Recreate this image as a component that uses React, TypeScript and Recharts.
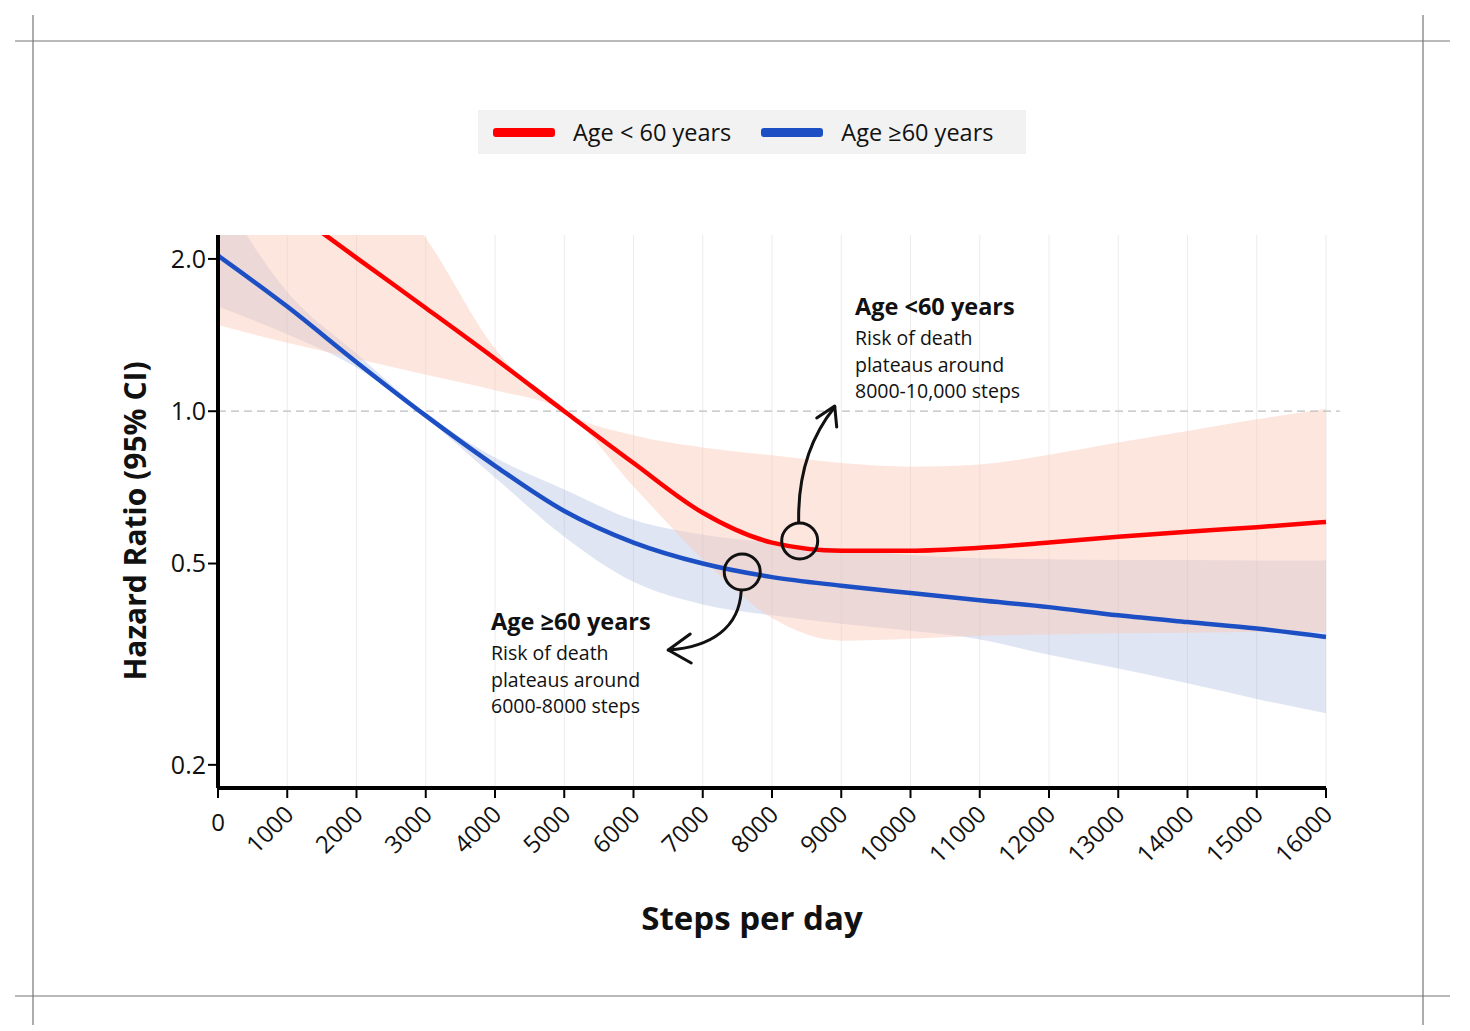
import React from 'react';
import {
  ComposedChart,
  Area,
  Line,
  XAxis,
  YAxis,
  CartesianGrid,
  ReferenceLine,
  ReferenceDot,
} from 'recharts';

// steps per day (x) and hazard ratios per age group
const STEPS = [0, 1000, 2000, 3000, 4000, 5000, 6000, 7000, 8000, 9000, 10000, 11000, 12000, 13000, 14000, 15000, 16000];
const Y_TICKS = [0.2, 0.5, 1.0, 2.0];

const YOUNG_HR = [null, 2.53, 2.01, 1.6, 1.27, 1.0, 0.79, 0.63, 0.55, 0.53, 0.53, 0.537, 0.55, 0.565, 0.578, 0.59, 0.604];
const YOUNG_LO = [1.48, 1.365, 1.27, 1.18, 1.1, 1.0, 0.71, 0.51, 0.39, 0.352, 0.355, 0.36, 0.362, 0.364, 0.365, 0.366, 0.366];
const YOUNG_HI = [5.0, 4.2, 3.2, 2.2, 1.33, 1.0, 0.896, 0.848, 0.818, 0.79, 0.777, 0.785, 0.82, 0.867, 0.914, 0.964, 1.01];

const OLDER_HR = [2.03, 1.61, 1.25, 0.98, 0.78, 0.635, 0.55, 0.5, 0.47, 0.452, 0.437, 0.423, 0.41, 0.395, 0.383, 0.372, 0.358];
const OLDER_LO = [1.61, 1.42, 1.22, 0.97, 0.74, 0.565, 0.46, 0.415, 0.395, 0.38, 0.368, 0.354, 0.33, 0.31, 0.29, 0.27, 0.253];
const OLDER_HI = [2.75, 1.72, 1.3, 0.99, 0.81, 0.7, 0.61, 0.57, 0.55, 0.535, 0.52, 0.512, 0.51, 0.508, 0.508, 0.507, 0.507];

const data = STEPS.map((steps, i) => ({
  steps,
  young: YOUNG_HR[i],
  youngCI: [YOUNG_LO[i], YOUNG_HI[i]],
  older: OLDER_HR[i],
  olderCI: [OLDER_LO[i], OLDER_HI[i]],
}));

const FONT = '"Open Sans", Lato, sans-serif';
const INK = '#111';
const RED = '#ff0000';
const BLUE = '#1d4fc4';

const StepTick = (props: any) => {
  const { x, y, payload } = props;
  if (payload.value === 0) {
    return (
      <text x={x} y={y + 31} textAnchor="middle" fontSize={24} fontWeight={500} fontFamily={FONT} fill={INK}>
        0
      </text>
    );
  }
  const ax = x + 8;
  const ay = y + 16;
  return (
    <text
      x={ax}
      y={ay}
      transform={`rotate(-45 ${ax} ${ay})`}
      textAnchor="end"
      fontSize={24}
      fontWeight={500}
      fontFamily={FONT}
      fill={INK}
    >
      {payload.value}
    </text>
  );
};

// circled point with an arrow curving up towards the note
const UpperMarker = (props: any) => {
  const { cx, cy } = props;
  return (
    <g transform={`translate(${cx} ${cy})`} fill="none" stroke="#111" strokeWidth={3} strokeLinecap="round">
      <circle r={18} />
      <path d="M -1 -19 C -2 -70, 14 -108, 35 -134" />
      <path d="M 17 -123 L 35 -135 L 37 -114" strokeLinejoin="round" />
    </g>
  );
};

// circled point with an arrow curving down-left to the note
const LowerMarker = (props: any) => {
  const { cx, cy } = props;
  return (
    <g transform={`translate(${cx} ${cy})`} fill="none" stroke="#111" strokeWidth={3} strokeLinecap="round">
      <circle r={18} />
      <path d="M -1 19 C -3 55, -30 75, -74 78" />
      <path d="M -52 62 L -74 78 L -51 91" strokeLinejoin="round" />
    </g>
  );
};

const Note = ({ x, y, title, lines }: { x: number; y: number; title: string; lines: string[] }) => (
  <g fontFamily={FONT} fill={INK}>
    <text x={x} y={y} fontSize={23.5} fontWeight={700}>{title}</text>
    {lines.map((t, i) => (
      <text key={t} x={x} y={y + 30 + i * 26.5} fontSize={19.5} fontWeight={500}>{t}</text>
    ))}
  </g>
);

const LegendItem = ({ color, label }: { color: string; label: string }) => (
  <div style={{ display: 'flex', alignItems: 'center', marginRight: 30 }}>
    <div style={{ width: 62, height: 9, borderRadius: 3, background: color, marginRight: 18 }} />
    <span style={{ fontSize: 23.5, fontWeight: 500, color: INK, fontFamily: FONT }}>{label}</span>
  </div>
);

export default function App() {
  return (
    <div style={{ position: 'absolute', left: 0, top: 0, width: 1470, height: 1031, background: '#fff' }}>
      <ComposedChart
        width={1470}
        height={1031}
        data={data}
        margin={{ top: 235, right: 144, bottom: 153, left: 148 }}
      >
        <CartesianGrid horizontal={false} stroke="#ececec" strokeWidth={1} />
        <XAxis
          dataKey="steps"
          type="number"
          domain={[0, 16000]}
          ticks={STEPS}
          height={90}
          tick={<StepTick />}
          tickSize={10}
          tickLine={{ stroke: '#000', strokeWidth: 2 }}
          axisLine={{ stroke: '#000', strokeWidth: 4 }}
        />
        <YAxis
          scale="log"
          domain={[0.18, 2.23]}
          allowDataOverflow
          ticks={Y_TICKS}
          width={70}
          tickFormatter={(v: number) => v.toFixed(1)}
          tick={{ fontSize: 25, fontWeight: 500, fill: INK, fontFamily: FONT }}
          tickSize={10}
          tickLine={{ stroke: '#000', strokeWidth: 2 }}
          axisLine={{ stroke: '#000', strokeWidth: 4 }}
        />
        <ReferenceLine
          segment={[{ x: 0, y: 1 }, { x: 16200, y: 1 }]}
          ifOverflow="visible"
          stroke="#bdbdbd"
          strokeWidth={1.2}
          strokeDasharray="8 5"
        />
        <Area
          dataKey="olderCI"
          type="monotone"
          stroke="none"
          fill="#98a8d7"
          fillOpacity={0.3}
          isAnimationActive={false}
          activeDot={false}
        />
        <Area
          dataKey="youngCI"
          type="monotone"
          stroke="none"
          fill="#fac7b6"
          fillOpacity={0.45}
          isAnimationActive={false}
          activeDot={false}
        />
        <Line dataKey="older" type="monotone" stroke={BLUE} strokeWidth={4.5} dot={false} isAnimationActive={false} />
        <Line dataKey="young" type="monotone" stroke={RED} strokeWidth={4.5} dot={false} isAnimationActive={false} />
        <ReferenceDot x={8400} y={0.554} r={18} shape={<UpperMarker />} ifOverflow="visible" />
        <ReferenceDot x={7570} y={0.481} r={18} shape={<LowerMarker />} ifOverflow="visible" />
      </ComposedChart>

      <svg
        width={1470}
        height={1031}
        style={{ position: 'absolute', left: 0, top: 0, pointerEvents: 'none' }}
      >
        {/* sketch frame */}
        <g stroke="#555" strokeWidth={1.2} opacity={0.8}>
          <line x1={15} y1={41} x2={1450} y2={41} />
          <line x1={15} y1={996} x2={1450} y2={996} />
          <line x1={33} y1={15} x2={33} y2={1025} />
          <line x1={1423} y1={15} x2={1423} y2={1025} />
        </g>
        <text
          x={0}
          y={0}
          transform="translate(146 521) rotate(-90)"
          textAnchor="middle"
          fontFamily={FONT}
          fontWeight={700}
          fontSize={30}
          fill={INK}
        >
          Hazard Ratio (95% CI)
        </text>
        <text x={752} y={930} textAnchor="middle" fontFamily={FONT} fontWeight={700} fontSize={33} fill={INK}>
          Steps per day
        </text>
        <Note x={855} y={315} title="Age <60 years" lines={['Risk of death', 'plateaus around', '8000-10,000 steps']} />
        <Note x={491} y={630} title="Age ≥60 years" lines={['Risk of death', 'plateaus around', '6000-8000 steps']} />
      </svg>

      <div
        style={{
          position: 'absolute',
          left: 478,
          top: 110,
          width: 548,
          height: 44,
          background: '#f2f2f2',
          display: 'flex',
          alignItems: 'center',
          paddingLeft: 15,
          boxSizing: 'border-box',
        }}
      >
        <LegendItem color={RED} label="Age < 60 years" />
        <LegendItem color={BLUE} label="Age ≥60 years" />
      </div>
    </div>
  );
}
